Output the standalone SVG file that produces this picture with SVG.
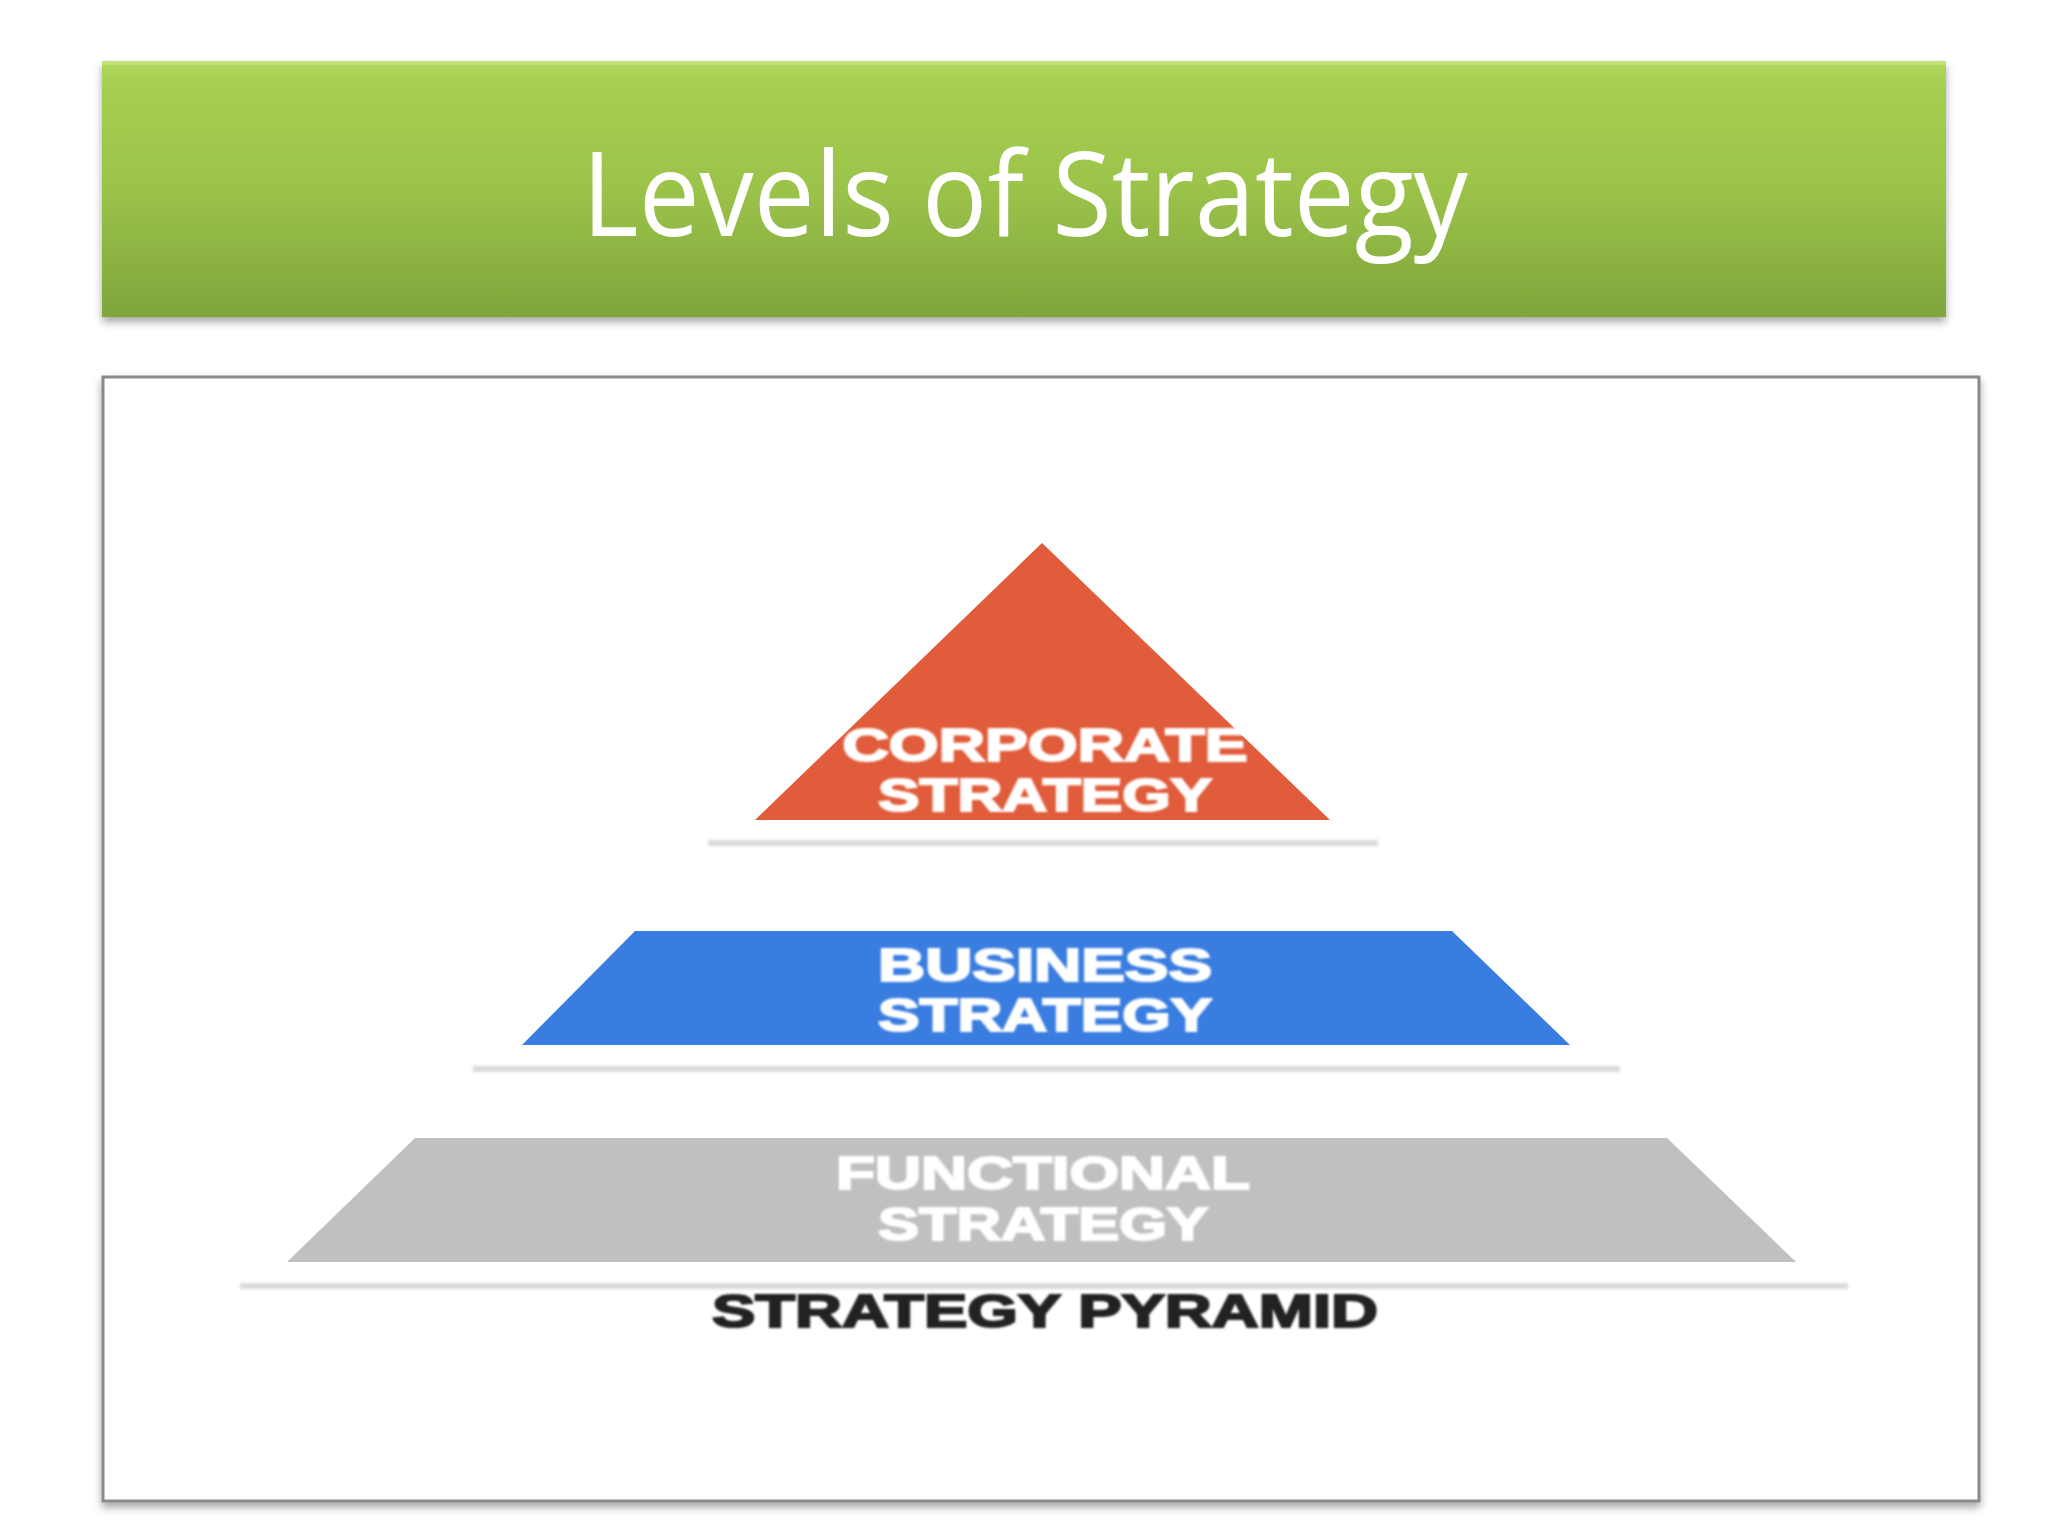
<svg xmlns="http://www.w3.org/2000/svg" width="2048" height="1536" viewBox="0 0 2048 1536">
  <defs>
    <linearGradient id="green" x1="0" y1="0" x2="0" y2="1">
      <stop offset="0" stop-color="#b3d95e"/>
      <stop offset="0.08" stop-color="#a6cf52"/>
      <stop offset="0.5" stop-color="#9bc34a"/>
      <stop offset="1" stop-color="#7fa53b"/>
    </linearGradient>
    <filter id="shadow" x="-5%" y="-10%" width="110%" height="130%">
      <feGaussianBlur in="SourceAlpha" stdDeviation="4"/>
      <feOffset dx="0" dy="5" result="b"/>
      <feComponentTransfer><feFuncA type="linear" slope="0.35"/></feComponentTransfer>
      <feMerge><feMergeNode/><feMergeNode in="SourceGraphic"/></feMerge>
    </filter>
    <filter id="soft" x="-5%" y="-100%" width="110%" height="300%">
      <feGaussianBlur stdDeviation="1.5"/>
    </filter>
    <filter id="glow" x="-10%" y="-30%" width="120%" height="160%">
      <feGaussianBlur stdDeviation="0.8"/>
    </filter>
  </defs>
  <style>
    .lbl { font-family: "Liberation Sans", Arial, sans-serif; font-weight: bold; fill: #ffffff; stroke: #ffffff; stroke-width: 2; text-anchor: middle; dominant-baseline: central; }
    .sep { fill: #d9d9d9; }
  </style>
  <rect width="2048" height="1536" fill="#ffffff"/>

  <g id="title">
    <rect x="102" y="61" width="1844" height="256" fill="url(#green)" filter="url(#shadow)"/>
    <rect x="102" y="61" width="1844" height="4" fill="#c4e27a"/>
    <text x="1025" y="236" font-family="Open Sans, 'Noto Sans', sans-serif" font-size="118" fill="#ffffff" text-anchor="middle" textLength="886" lengthAdjust="spacingAndGlyphs">Levels of Strategy</text>
  </g>

  <g id="frame">
    <rect x="103" y="377" width="1876" height="1124" fill="#ffffff" stroke="#8a8a8a" stroke-width="3" filter="url(#shadow)"/>
  </g>

  <g id="connectors">
    <rect class="sep" x="708" y="840" width="670" height="6" filter="url(#soft)"/>
    <rect class="sep" x="473" y="1066" width="1147" height="6" filter="url(#soft)"/>
    <rect class="sep" x="240" y="1283" width="1608" height="6" filter="url(#soft)"/>
  </g>

  <g id="corporate">
    <polygon points="1042,543 1330,820 755,820" fill="#e05c3a"/>
    <g filter="url(#glow)">
      <text class="lbl" x="1045" y="745" font-size="46" textLength="405" lengthAdjust="spacingAndGlyphs">CORPORATE</text>
      <text class="lbl" x="1045" y="795" font-size="46" textLength="334" lengthAdjust="spacingAndGlyphs">STRATEGY</text>
    </g>
  </g>

  <g id="business">
    <polygon points="635,931 1452,931 1570,1045 522,1045" fill="#3a7de0"/>
    <g filter="url(#glow)">
      <text class="lbl" x="1045" y="965" font-size="46" textLength="334" lengthAdjust="spacingAndGlyphs">BUSINESS</text>
      <text class="lbl" x="1045" y="1015" font-size="46" textLength="334" lengthAdjust="spacingAndGlyphs">STRATEGY</text>
    </g>
  </g>

  <g id="functional">
    <polygon points="415,1138 1667,1138 1796,1262 287,1262" fill="#c0c0c0"/>
    <g filter="url(#glow)">
      <text class="lbl" x="1043" y="1173" font-size="46" textLength="414" lengthAdjust="spacingAndGlyphs">FUNCTIONAL</text>
      <text class="lbl" x="1043" y="1224" font-size="46" textLength="330" lengthAdjust="spacingAndGlyphs">STRATEGY</text>
    </g>
  </g>

  <g id="caption">
    <text x="1045" y="1311" font-family="'Liberation Sans', Arial, sans-serif" font-weight="bold" font-size="46" fill="#222222" stroke="#222222" stroke-width="2" text-anchor="middle" dominant-baseline="central" textLength="666" lengthAdjust="spacingAndGlyphs" filter="url(#glow)">STRATEGY PYRAMID</text>
  </g>
</svg>
